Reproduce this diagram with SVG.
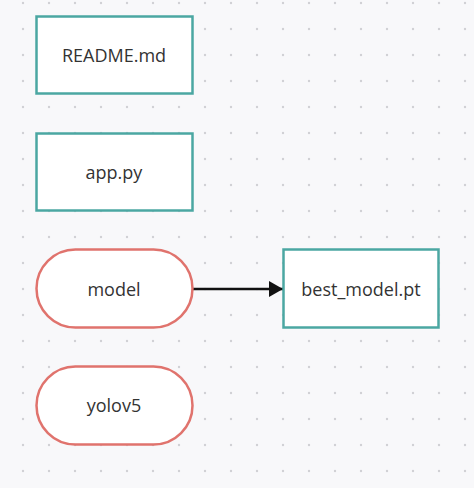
<svg xmlns="http://www.w3.org/2000/svg" width="474" height="488" viewBox="0 0 474 488">
<defs>
<pattern id="dots" x="23" y="3" width="26" height="26" patternUnits="userSpaceOnUse">
<circle cx="0" cy="0" r="1.2" fill="#d0d0d4"/>
<circle cx="26" cy="0" r="1.2" fill="#d0d0d4"/>
<circle cx="0" cy="26" r="1.2" fill="#d0d0d4"/>
<circle cx="26" cy="26" r="1.2" fill="#d0d0d4"/>
</pattern>
<marker id="arrow" viewBox="0 0 14 16" refX="14" refY="8" markerWidth="5.6" markerHeight="6.4" markerUnits="strokeWidth" orient="auto">
<path d="M0,0 L14,8 L0,16 z" fill="#111"/>
</marker>
<style>
.file{fill:#fff;stroke:#4ba7a2;stroke-width:2.5}
.dir{fill:#fff;stroke:#e0736d;stroke-width:2.5}
.lbl{font-family:"Open Sans","Noto Sans",sans-serif;font-size:18px;fill:#333;text-anchor:middle;dominant-baseline:central}
.edge{stroke:#111;stroke-width:2.5;fill:none}
</style>
</defs>
<rect width="474" height="488" fill="#f8f8fa"/>
<rect width="474" height="488" fill="url(#dots)"/>
<g id="connectors">
<path class="edge" d="M192,289 L283,289" marker-end="url(#arrow)"/>
</g>
<g id="readme">
<rect class="file" x="36.5" y="16.5" width="156" height="77"/>
<text class="lbl" x="114" y="55">README.md</text>
</g>
<g id="app">
<rect class="file" x="36.5" y="133.5" width="156" height="77"/>
<text class="lbl" x="114" y="172">app.py</text>
</g>
<g id="model">
<rect class="dir" x="36.5" y="249.5" width="156" height="78" rx="39" ry="39"/>
<text class="lbl" x="114" y="289">model</text>
</g>
<g id="yolov5">
<rect class="dir" x="36.5" y="366.5" width="156" height="78" rx="39" ry="39"/>
<text class="lbl" x="114" y="405">yolov5</text>
</g>
<g id="best_model">
<rect class="file" x="283.5" y="249.5" width="155" height="78"/>
<text class="lbl" x="361" y="289">best_model.pt</text>
</g>
</svg>
